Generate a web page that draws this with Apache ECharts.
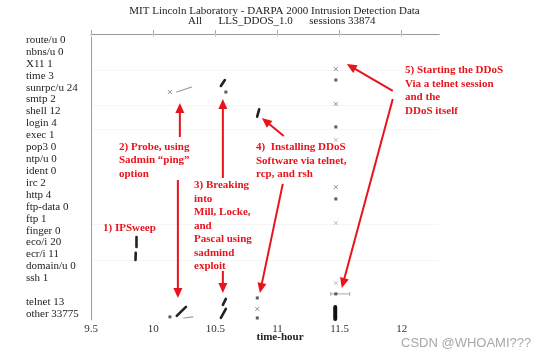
<!DOCTYPE html>
<html><head><meta charset="utf-8">
<script src="https://cdn.jsdelivr.net/npm/echarts@6/dist/echarts.min.js"></script>
<style>html,body{margin:0;padding:0;background:#fff}#c{width:549px;height:359px}</style>
</head><body><div id="c"></div>
<script>
// Row labels (top to bottom); '' is the empty slot between ssh and telnet
const services = ['route/u 0','nbns/u 0','X11 1','time 3','sunrpc/u 24','smtp 2','shell 12','login 4','exec 1','pop3 0','ntp/u 0','ident 0','irc 2','http 4','ftp-data 0','ftp 1','finger 0','eco/i 20','ecr/i 11','domain/u 0','ssh 1','','telnet 13','other 33775'];
const xTicks = [9.5, 10, 10.5, 11, 11.5, 12];
// Session streaks: [hourStart, rowPosStart, hourEnd, rowPosEnd] (row position in slot units, 0 = top)
const blackStreaks = [
  [9.866, 17.03, 9.866, 17.87],
  [9.860, 18.37, 9.858, 18.96],
  [10.545, 4.36, 10.577, 3.86],
  [10.837, 6.94, 10.853, 6.32],
  [10.190, 23.66, 10.264, 22.90],
  [10.561, 22.73, 10.585, 22.23],
  [10.545, 23.83, 10.585, 23.07]
];
const grayStreaks = [
  [10.19, 4.87, 10.31, 4.45],
  [10.248, 23.83, 10.32, 23.74]
];
const ddosBar = [[11.465, 22.90, 11.465, 23.91]];
const whiskers = [[11.429, 21.81, 11.582, 21.81]];
const blackDots = [[10.585, 4.87], [10.135, 23.74], [10.838, 22.15], [10.838, 23.83], [11.47, 3.86], [11.47, 7.80], [11.47, 13.84], [11.47, 21.81]];
const grayCrosses = [[10.135, 4.87], [10.838, 23.07], [11.47, 2.94], [11.47, 5.87], [11.47, 12.84]];
const lightCrosses = [[11.47, 8.89], [11.47, 15.86], [11.47, 20.89]];
const faintRows = [3, 6, 8, 16, 19];
// Annotation arrows: [hourTail, rowTail, hourTip, rowTip]
const arrows = [
  [10.215, 8.64, 10.215, 5.79],
  [10.199, 12.25, 10.199, 22.15],
  [10.561, 12.08, 10.561, 5.45],
  [10.561, 19.88, 10.561, 21.73],
  [11.051, 8.56, 10.875, 7.05],
  [11.043, 12.58, 10.859, 21.73],
  [11.928, 4.78, 11.558, 2.52],
  [11.928, 5.45, 11.518, 21.31]
];
const RED = '#e8141c';
const SERIF = '"Liberation Serif", "Times New Roman", serif';

function segRender(color, width, caps) {
  return function (params, api) {
    const p1 = api.coord([api.value(0), api.value(1)]);
    const p2 = api.coord([api.value(2), api.value(3)]);
    const children = [{type: 'line', shape: {x1: p1[0], y1: p1[1], x2: p2[0], y2: p2[1]}, style: {stroke: color, lineWidth: width, lineCap: caps ? 'butt' : 'round'}}];
    if (caps) {
      children.push({type: 'line', shape: {x1: p1[0], y1: p1[1] - 2, x2: p1[0], y2: p1[1] + 2}, style: {stroke: color, lineWidth: 1}});
      children.push({type: 'line', shape: {x1: p2[0], y1: p2[1] - 2, x2: p2[0], y2: p2[1] + 2}, style: {stroke: color, lineWidth: 1}});
    }
    return {type: 'group', children: children};
  };
}
function arrowRender(params, api) {
  const p1 = api.coord([api.value(0), api.value(1)]);
  const p2 = api.coord([api.value(2), api.value(3)]);
  const dx = p2[0] - p1[0], dy = p2[1] - p1[1], L = Math.hypot(dx, dy);
  const ux = dx / L, uy = dy / L, hl = 10, hw = 4.5;
  const bx = p2[0] - ux * hl, by = p2[1] - uy * hl;
  return {type: 'group', children: [
    {type: 'line', shape: {x1: p1[0], y1: p1[1], x2: bx + ux, y2: by + uy}, style: {stroke: RED, lineWidth: 2}},
    {type: 'polygon', shape: {points: [[p2[0], p2[1]], [bx - uy * hw, by + ux * hw], [bx + uy * hw, by - ux * hw]]}, style: {fill: RED}}
  ]};
}
function custom(name, data, render, z) {
  return {name: name, type: 'custom', xAxisIndex: 0, yAxisIndex: 1, data: data, renderItem: render, silent: true, z: z || 3, encode: {x: [0, 2], y: [1, 3]}};
}
const crossPath = 'path://M0,0L10,10M10,0L0,10';
const chart = echarts.init(document.getElementById('c'), null, {renderer: 'canvas'});
const annStyle = {fill: RED, font: 'bold 11px ' + SERIF, lineHeight: 13.5};
chart.setOption({
  animation: false,
  backgroundColor: '#fff',
  grid: {left: 91, right: 110, top: 34, bottom: 39},
  xAxis: [
    {type: 'value', min: 9.5, max: 12.3, interval: 0.5, position: 'bottom',
      axisLine: {lineStyle: {color: '#999'}},
      axisTick: {inside: true, length: 4, lineStyle: {color: '#aaa'}, customValues: xTicks},
      axisLabel: {customValues: xTicks, fontFamily: SERIF, fontSize: 11, color: '#333', margin: 4},
      splitLine: {show: false}},
    {type: 'value', min: 9.5, max: 12.3, interval: 0.5, position: 'top',
      axisLine: {show: true, lineStyle: {color: '#999'}},
      axisTick: {show: true, inside: true, length: 3, lineStyle: {color: '#ccc'}, customValues: xTicks},
      axisLabel: {show: false}, splitLine: {show: false}}
  ],
  yAxis: [
    {type: 'category', data: services, inverse: true, boundaryGap: true,
      axisLine: {show: true, lineStyle: {color: '#999'}}, axisTick: {show: false},
      axisLabel: {align: 'left', margin: 65, fontFamily: SERIF, fontSize: 11, color: '#222', interval: 0},
      splitLine: {show: false}},
    {type: 'value', min: 0, max: 24, inverse: true, show: false, splitLine: {show: false}}
  ],
  series: [
    {type: 'scatter', xAxisIndex: 0, yAxisIndex: 1, data: grayCrosses, symbol: crossPath, symbolSize: 4,
      itemStyle: {color: 'transparent', borderColor: '#777', borderWidth: 1}, silent: true, z: 4,
      markLine: {silent: true, symbol: 'none', label: {show: false}, z: 0, lineStyle: {color: '#f6f6f6', width: 1, type: 'solid'},
        data: faintRows.map(v => ({yAxis: v}))}},
    {type: 'scatter', xAxisIndex: 0, yAxisIndex: 1, data: lightCrosses, symbol: crossPath, symbolSize: 4,
      itemStyle: {color: 'transparent', borderColor: '#9bb', borderWidth: 1}, silent: true, z: 4},
    {type: 'scatter', xAxisIndex: 0, yAxisIndex: 1, data: blackDots, symbol: 'rect', symbolSize: 3,
      itemStyle: {color: '#333'}, silent: true, z: 5},
    custom('black', blackStreaks, segRender('#222', 2.6, false), 5),
    custom('gray', grayStreaks, segRender('#999', 1.2, false), 4),
    custom('ddos', ddosBar, segRender('#111', 4, false), 5),
    custom('whisker', whiskers, segRender('#aaa', 1, true), 4),
    custom('arrows', arrows, arrowRender, 10)
  ],
  graphic: [
    {type: 'text', z: 100, left: 'center', x: 0, top: 6, style: {text: 'MIT Lincoln Laboratory - DARPA 2000 Intrusion Detection Data', fill: '#222', font: '11px ' + SERIF}},
    {type: 'text', z: 100, x: 188, y: 16, style: {text: 'All      LLS_DDOS_1.0      sessions 33874', fill: '#222', font: '11px ' + SERIF}},
    {type: 'text', z: 100, x: 280, y: 337, style: {text: 'time-hour', fill: '#222', font: 'bold 11px ' + SERIF, textAlign: 'center', textVerticalAlign: 'middle'}},
    {type: 'text', z: 100, x: 103, y: 221.5, style: Object.assign({text: '1) IPSweep'}, annStyle)},
    {type: 'text', z: 100, x: 119, y: 140, style: Object.assign({text: '2) Probe, using\nSadmin \u201cping\u201d\noption'}, annStyle)},
    {type: 'text', z: 100, x: 194, y: 178.5, style: Object.assign({text: '3) Breaking\ninto\nMill, Locke,\nand\nPascal using\nsadmind\nexploit'}, annStyle)},
    {type: 'text', z: 100, x: 256, y: 140.5, style: Object.assign({text: '4)  Installing DDoS\nSoftware via telnet,\nrcp, and rsh'}, annStyle)},
    {type: 'text', z: 100, x: 405, y: 63.5, style: Object.assign({text: '5) Starting the DDoS\nVia a telnet session\nand the\nDDoS itself'}, annStyle)},
    {type: 'text', z: 100, x: 401, y: 343, style: {text: 'CSDN @WHOAMI???', fill: '#a8a8a8', font: '13px "Liberation Sans", Arial, sans-serif', textVerticalAlign: 'middle'}}
  ]
});
</script></body></html>
